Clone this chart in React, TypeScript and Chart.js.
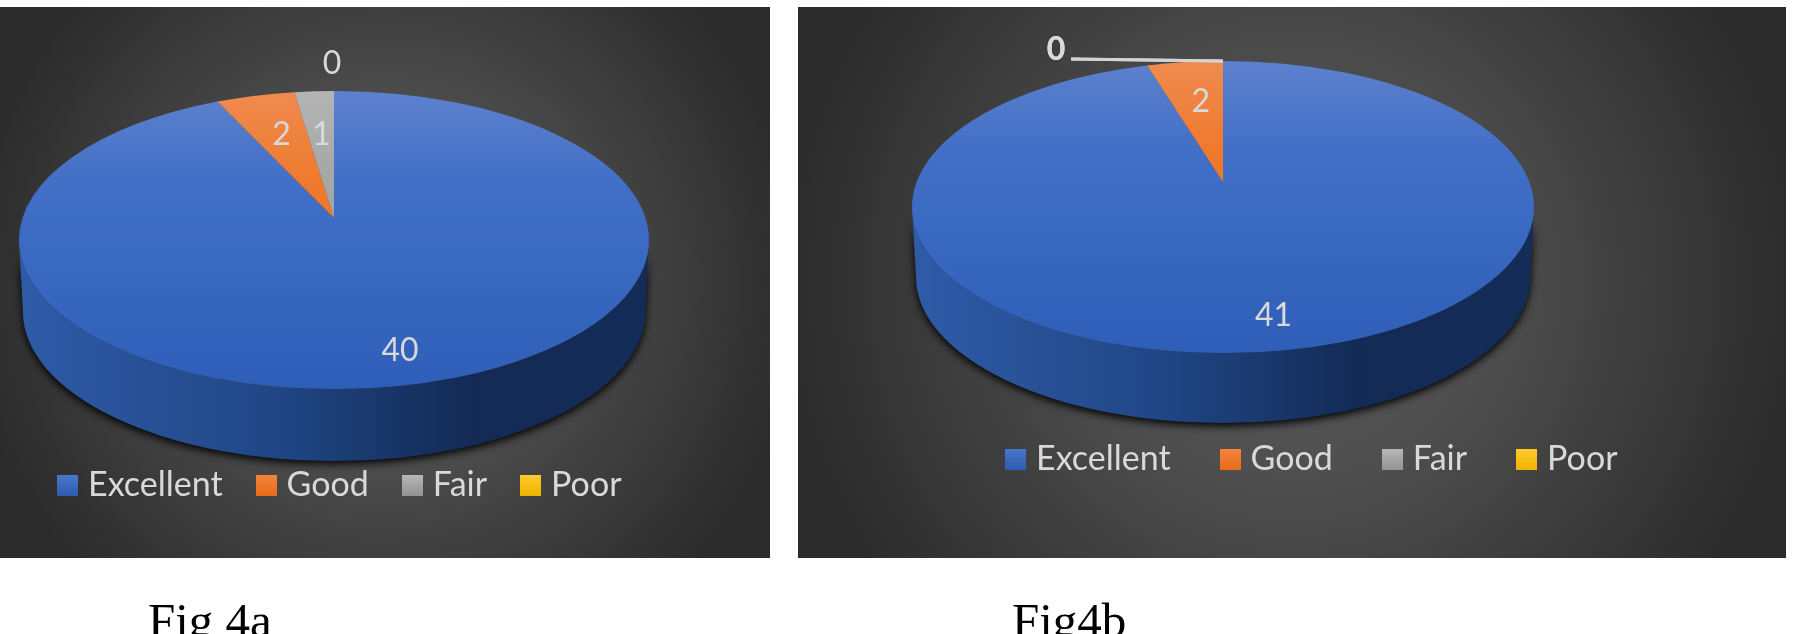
import { useEffect, useRef } from 'react';
import Chart from 'chart.js/auto';

const categories = ['Excellent', 'Good', 'Fair', 'Poor'];
const valuesA = [40, 2, 1, 0];
const valuesB = [41, 2, 0, 0];

// top face colours, back of the pie to the middle and front
const faceBack = ['#5d81cd', '#ef8b50', '#b4b4b4', '#ffcc30'];
const faceMid = ['#4270c7', '#ee7a2e', '#a6a6a6', '#fdc010'];
const faceFront = ['#2f5eb8', '#ed7020', '#a0a0a0', '#f5b800'];
const swatchTops = ['#4a78cc', '#f5853c', '#b8b8b8', '#ffcc30'];
const swatchBottoms = ['#2f5cb2', '#e86c1c', '#949494', '#efb400'];
const wallStops = ['#2f5ba8', '#1f4583', '#132a55', '#142c58'];
const TEXT = '#d9d9d9';
const FONT = 'Lato';

const panelA = {
  left: 0, top: 7, width: 770, height: 551, glow: 420,
  cx: 334, cy: 233, rx: 315, ry: 149, perspective: 0.148,
  wallDrop: 72, wallInset: 4,
  labelRadius: [0.82, 0.65, 0.65, 1.26],
  labelNudge: [[3, 0], [1, 0], [1, 3], [-2, 1]],
  legendLeft: 24, legendGap: 40, legendBottom: 46,
};
const panelB = {
  left: 798, top: 7, width: 988, height: 551, glow: 510,
  cx: 425, cy: 200, rx: 311, ry: 146, perspective: 0.171,
  wallDrop: 70, wallInset: 4,
  labelRadius: [0.82, 0.65, 1, 1],
  labelNudge: [[8, 0], [4, 2], [0, 0], [0, 0]],
  legendLeft: 158, legendGap: 56, legendBottom: 72,
};

type Panel = typeof panelA;

// a circle seen in perspective: its centre does not land on the ellipse centre
function project(p: Panel, angle: number, r: number) {
  const x = r * Math.sin(angle);
  const u = -r * Math.cos(angle);
  const w = 1 - p.perspective * u;
  return {
    x: (x * Math.sqrt(1 - p.perspective ** 2)) / w,
    u: (u - p.perspective) / w,
  };
}

function rimAngles(p: Panel, arc: any) {
  const a = project(p, arc.startAngle + Math.PI / 2, 1);
  const b = project(p, arc.endAngle + Math.PI / 2, 1);
  const from = Math.atan2(a.u, a.x);
  let to = Math.atan2(b.u, b.x);
  while (to < from) to += Math.PI * 2;
  return [from, to];
}

function drawPie(chart: any, p: Panel) {
  const { ctx } = chart;
  const arcs = chart.getDatasetMeta(0).data;
  ctx.save();

  // side wall, front half only
  arcs.forEach((arc: any) => {
    if (arc.endAngle - arc.startAngle < 1e-6) return;
    const [from, to] = rimAngles(p, arc);
    const start = Math.max(from, 0);
    const end = Math.min(to, Math.PI);
    if (end <= start) return;
    const grad = ctx.createLinearGradient(p.cx - p.rx, 0, p.cx + p.rx, 0);
    grad.addColorStop(0, wallStops[0]);
    grad.addColorStop(0.42, wallStops[1]);
    grad.addColorStop(0.72, wallStops[2]);
    grad.addColorStop(1, wallStops[3]);
    ctx.save();
    ctx.shadowColor = 'rgba(0,0,0,1)';
    ctx.shadowBlur = 9;
    ctx.shadowOffsetY = 3;
    ctx.fillStyle = grad;
    ctx.beginPath();
    ctx.ellipse(p.cx, p.cy, p.rx, p.ry, 0, start, end);
    ctx.ellipse(p.cx, p.cy + p.wallDrop, p.rx - p.wallInset, p.ry, 0, end, start, true);
    ctx.closePath();
    ctx.fill();
    ctx.restore();
  });

  // top face
  const apexY = p.cy - p.perspective * p.ry;
  arcs.forEach((arc: any, i: number) => {
    if (arc.endAngle - arc.startAngle < 1e-6) return;
    const [from, to] = rimAngles(p, arc);
    const face = ctx.createLinearGradient(0, p.cy - p.ry, 0, p.cy + p.ry);
    face.addColorStop(0, faceBack[i]);
    face.addColorStop(0.3, faceMid[i]);
    face.addColorStop(1, faceFront[i]);
    ctx.fillStyle = face;
    ctx.beginPath();
    ctx.moveTo(p.cx, apexY);
    ctx.ellipse(p.cx, p.cy, p.rx, p.ry, 0, from, to);
    ctx.closePath();
    ctx.fill();
  });
  ctx.restore();
}

function drawLabels(chart: any, p: Panel, values: number[]) {
  const { ctx } = chart;
  const arcs = chart.getDatasetMeta(0).data;
  ctx.save();
  ctx.fillStyle = TEXT;
  ctx.textAlign = 'center';
  ctx.textBaseline = 'middle';
  values.forEach((value, i) => {
    const mid = (arcs[i].startAngle + arcs[i].endAngle) / 2 + Math.PI / 2;
    const pos = project(p, mid, p.labelRadius[i]);
    let x = p.cx + pos.x * p.rx + p.labelNudge[i][0];
    let y = p.cy + pos.u * p.ry + p.labelNudge[i][1];
    ctx.font = `32px ${FONT}`;
    if (p === panelB && value === 0) {
      // empty slices get pulled out to the left on a leader line
      const rimY = p.cy - p.ry;
      ctx.strokeStyle = '#d4d4d4';
      ctx.lineWidth = 3;
      ctx.beginPath();
      ctx.moveTo(x, rimY);
      ctx.lineTo(x - 152, rimY - 2);
      ctx.stroke();
      x -= 167;
      y = rimY - 11;
      ctx.font = `bold 32px ${FONT}`;
    }
    ctx.fillText(String(value), x, y);
  });
  ctx.restore();
}

function makeSwatch(i: number) {
  const swatch = document.createElement('canvas');
  swatch.width = 21;
  swatch.height = 21;
  const ctx = swatch.getContext('2d')!;
  const g = ctx.createLinearGradient(0, 0, 0, 21);
  g.addColorStop(0, swatchTops[i]);
  g.addColorStop(1, swatchBottoms[i]);
  ctx.fillStyle = g;
  ctx.fillRect(0, 0, 21, 21);
  return swatch;
}

function PieChart({ panel, values }: { panel: Panel; values: number[] }) {
  const chartRef = useRef<HTMLCanvasElement>(null);

  useEffect(() => {
    if (!chartRef.current) return;
    const chart = new Chart(chartRef.current, {
      type: 'pie',
      data: {
        labels: categories,
        datasets: [{ data: values, backgroundColor: faceMid, borderWidth: 0 }],
      },
      options: {
        responsive: false,
        animation: false,
        layout: { padding: { left: panel.legendLeft, bottom: panel.legendBottom } },
        plugins: {
          tooltip: { enabled: false },
          legend: {
            position: 'bottom',
            align: 'start',
            labels: {
              color: TEXT,
              usePointStyle: true,
              pointStyleWidth: 7, // pulls the text closer to the 21px swatch
              padding: panel.legendGap,
              font: { family: FONT, size: 34 },
              generateLabels: () =>
                categories.map((text, i) => ({
                  text,
                  pointStyle: makeSwatch(i),
                  fillStyle: swatchTops[i],
                  strokeStyle: 'transparent',
                  lineWidth: 0,
                  index: i,
                  fontColor: TEXT,
                })),
            },
          },
        },
      },
      plugins: [
        {
          id: 'tiltedPie',
          beforeDatasetDraw: () => false,
          afterDatasetsDraw: (c: any) => {
            drawPie(c, panel);
            drawLabels(c, panel, values);
          },
        },
      ],
    });
    return () => chart.destroy();
  }, [panel, values]);

  return (
    <div
      style={{
        position: 'absolute',
        left: panel.left,
        top: panel.top,
        width: panel.width,
        height: panel.height,
        background: `radial-gradient(circle ${panel.glow}px at 50% 50%, #5c5c5c 0%, #4e4e4e 40%, #2b2b2b 100%)`,
      }}
    >
      <canvas ref={chartRef} width={panel.width} height={panel.height} style={{ display: 'block' }} />
    </div>
  );
}

const captionStyle = {
  position: 'absolute' as const,
  top: 593,
  fontFamily: '"Liberation Serif", serif',
  fontSize: 49,
  lineHeight: '56px',
  color: '#000',
  whiteSpace: 'pre' as const,
};

export default function App() {
  return (
    <div style={{ position: 'absolute', left: 0, top: 0, width: 1795, height: 634, overflow: 'hidden', background: '#fff' }}>
      <PieChart panel={panelA} values={valuesA} />
      <PieChart panel={panelB} values={valuesB} />
      <div style={{ ...captionStyle, left: 148 }}>Fig 4a</div>
      <div style={{ ...captionStyle, left: 1012 }}>Fig4b</div>
    </div>
  );
}
